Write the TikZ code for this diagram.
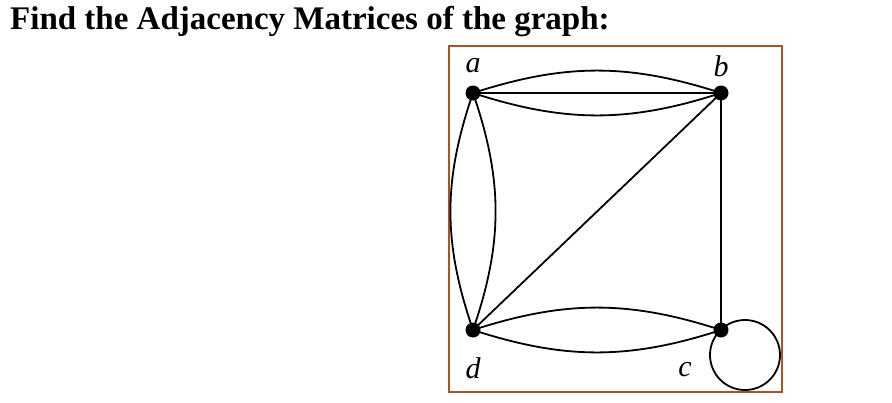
\documentclass[tikz,border=0pt]{standalone}
\usepackage{fontspec}
\setmainfont{Liberation Serif}
\usepackage{amsmath}
\usepackage{tikz}
\definecolor{framebrown}{RGB}{165,85,40}
\tikzset{
    vertex/.style={circle, fill=black, inner sep=0pt, minimum size=15pt},
    vlabel/.style={font=\fontsize{30}{30}\selectfont\itshape},
    edge/.style={line width=1.8pt}
}

\begin{document}
\begin{tikzpicture}[x=1pt,y=-1pt]
    \useasboundingbox (0,0) rectangle (892,402);
    \node[anchor=base west, font=\fontsize{33}{33}\selectfont\bfseries, inner sep=0pt] (title) at (10,29) {Find the Adjacency Matrices of the graph:};
    \draw[framebrown, line width=2pt] (449,46) rectangle (782,392);
    \node[vertex] (a) at (473,93) {};
    \node[vertex] (b) at (721,93) {};
    \node[vertex] (c) at (721,330) {};
    \node[vertex] (d) at (473,330) {};
    \node[vlabel] (la) at (473,66) {a};
    \node[vlabel] (lb) at (721,66) {b};
    \node[vlabel] (lc) at (685,370) {c};
    \node[vlabel] (ld) at (473,368) {d};
    \draw[edge] (a.center) -- (b.center);
    \draw[edge] (a.center) to[bend left=18] (b.center);
    \draw[edge] (a.center) to[bend right=18] (b.center);
    \draw[edge] (a.center) to[bend left=19] (d.center);
    \draw[edge] (a.center) to[bend right=19] (d.center);
    \draw[edge] (d.center) to[bend left=18] (c.center);
    \draw[edge] (d.center) to[bend right=18] (c.center);
    \draw[edge] (d.center) -- (b.center);
    \draw[edge] (b.center) -- (c.center);
    \coordinate (loopc) at (745,355);
    \draw[edge] (loopc) circle (35);
\end{tikzpicture}
\end{document}
